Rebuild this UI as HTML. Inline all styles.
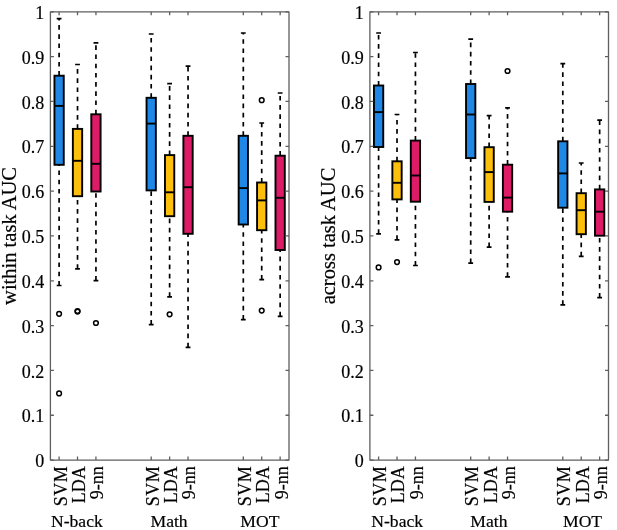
<!DOCTYPE html>
<html><head><meta charset="utf-8"><style>
html,body{margin:0;padding:0;background:#fff;}
svg{display:block;will-change:transform;}
text{font-family:"Liberation Serif",serif;fill:#000;stroke:#000;stroke-width:0.2px;}
.tl{font-size:18px;}
.yl{font-size:20.5px;}
.gl{font-size:17.6px;}
.fr{fill:none;stroke:#5f5f5f;stroke-width:1.3;stroke-linejoin:round;}
.tk{fill:none;stroke:#5f5f5f;stroke-width:1.3;}
.wh{fill:none;stroke:#000;stroke-width:1.7;stroke-dasharray:4.6 4.6;}
.cap{fill:none;stroke:#000;stroke-width:1.7;}
.bx{stroke:#000;stroke-width:1.9;}
.md{fill:none;stroke:#000;stroke-width:1.9;}
.ol{fill:none;stroke:#000;stroke-width:1.5;}
</style></head><body>
<svg width="617" height="530" viewBox="0 0 617 530">
<path d="M59.10 75.70V18.70M59.10 285.50V164.80" class="wh"/>
<path d="M56.70 18.70H61.50M56.70 285.50H61.50" class="cap"/>
<rect x="54.45" y="75.70" width="9.30" height="89.10" fill="#1f88e6" class="bx"/>
<path d="M54.45 105.90H63.75" class="md"/>
<circle cx="59.10" cy="313.80" r="2.35" class="ol"/>
<circle cx="59.10" cy="393.40" r="2.35" class="ol"/>
<path d="M77.52 128.90V64.50M77.52 268.90V196.20" class="wh"/>
<path d="M75.12 64.50H79.92M75.12 268.90H79.92" class="cap"/>
<rect x="72.87" y="128.90" width="9.30" height="67.30" fill="#fbbf0c" class="bx"/>
<path d="M72.87 160.80H82.17" class="md"/>
<circle cx="77.52" cy="311.00" r="2.35" class="ol"/>
<circle cx="77.52" cy="311.60" r="2.35" class="ol"/>
<path d="M95.94 114.30V42.80M95.94 280.60V191.50" class="wh"/>
<path d="M93.54 42.80H98.34M93.54 280.60H98.34" class="cap"/>
<rect x="91.29" y="114.30" width="9.30" height="77.20" fill="#dd1b66" class="bx"/>
<path d="M91.29 163.80H100.59" class="md"/>
<circle cx="95.94" cy="323.00" r="2.35" class="ol"/>
<path d="M151.20 97.80V34.00M151.20 324.70V190.40" class="wh"/>
<path d="M148.80 34.00H153.60M148.80 324.70H153.60" class="cap"/>
<rect x="146.55" y="97.80" width="9.30" height="92.60" fill="#1f88e6" class="bx"/>
<path d="M146.55 123.60H155.85" class="md"/>
<path d="M169.62 155.10V83.60M169.62 296.80V216.20" class="wh"/>
<path d="M167.22 83.60H172.02M167.22 296.80H172.02" class="cap"/>
<rect x="164.97" y="155.10" width="9.30" height="61.10" fill="#fbbf0c" class="bx"/>
<path d="M164.97 192.30H174.27" class="md"/>
<circle cx="169.62" cy="314.30" r="2.35" class="ol"/>
<path d="M188.04 135.80V66.20M188.04 347.40V233.80" class="wh"/>
<path d="M185.64 66.20H190.44M185.64 347.40H190.44" class="cap"/>
<rect x="183.39" y="135.80" width="9.30" height="98.00" fill="#dd1b66" class="bx"/>
<path d="M183.39 187.20H192.69" class="md"/>
<path d="M243.30 135.80V33.00M243.30 319.60V224.50" class="wh"/>
<path d="M240.90 33.00H245.70M240.90 319.60H245.70" class="cap"/>
<rect x="238.65" y="135.80" width="9.30" height="88.70" fill="#1f88e6" class="bx"/>
<path d="M238.65 188.10H247.95" class="md"/>
<path d="M261.72 182.50V123.00M261.72 279.60V230.20" class="wh"/>
<path d="M259.32 123.00H264.12M259.32 279.60H264.12" class="cap"/>
<rect x="257.07" y="182.50" width="9.30" height="47.70" fill="#fbbf0c" class="bx"/>
<path d="M257.07 200.40H266.37" class="md"/>
<circle cx="261.72" cy="100.20" r="2.35" class="ol"/>
<circle cx="261.72" cy="310.60" r="2.35" class="ol"/>
<path d="M280.14 155.70V93.00M280.14 316.40V250.00" class="wh"/>
<path d="M277.74 93.00H282.54M277.74 316.40H282.54" class="cap"/>
<rect x="275.49" y="155.70" width="9.30" height="94.30" fill="#dd1b66" class="bx"/>
<path d="M275.49 197.80H284.79" class="md"/>
<rect x="50.4" y="11.8" width="238.60" height="448.30" class="fr"/>
<path d="M50.4 460.10h3.5M289.0 460.10h-3.5M50.4 415.27h3.5M289.0 415.27h-3.5M50.4 370.44h3.5M289.0 370.44h-3.5M50.4 325.61h3.5M289.0 325.61h-3.5M50.4 280.78h3.5M289.0 280.78h-3.5M50.4 235.95h3.5M289.0 235.95h-3.5M50.4 191.12h3.5M289.0 191.12h-3.5M50.4 146.29h3.5M289.0 146.29h-3.5M50.4 101.46h3.5M289.0 101.46h-3.5M50.4 56.63h3.5M289.0 56.63h-3.5M50.4 11.80h3.5M289.0 11.80h-3.5M59.10 460.1v-3.5M59.10 11.8v3.5M77.52 460.1v-3.5M77.52 11.8v3.5M95.94 460.1v-3.5M95.94 11.8v3.5M151.20 460.1v-3.5M151.20 11.8v3.5M169.62 460.1v-3.5M169.62 11.8v3.5M188.04 460.1v-3.5M188.04 11.8v3.5M243.30 460.1v-3.5M243.30 11.8v3.5M261.72 460.1v-3.5M261.72 11.8v3.5M280.14 460.1v-3.5M280.14 11.8v3.5" class="tk"/>
<text x="44.3" y="467.30" class="tl" text-anchor="end">0</text>
<text x="44.3" y="422.47" class="tl" text-anchor="end">0.1</text>
<text x="44.3" y="377.64" class="tl" text-anchor="end">0.2</text>
<text x="44.3" y="332.81" class="tl" text-anchor="end">0.3</text>
<text x="44.3" y="287.98" class="tl" text-anchor="end">0.4</text>
<text x="44.3" y="243.15" class="tl" text-anchor="end">0.5</text>
<text x="44.3" y="198.32" class="tl" text-anchor="end">0.6</text>
<text x="44.3" y="153.49" class="tl" text-anchor="end">0.7</text>
<text x="44.3" y="108.66" class="tl" text-anchor="end">0.8</text>
<text x="44.3" y="63.83" class="tl" text-anchor="end">0.9</text>
<text x="44.3" y="19.00" class="tl" text-anchor="end">1</text>
<text transform="translate(15.6,236) rotate(-90)" class="yl" text-anchor="middle">within task AUC</text>
<text transform="translate(66.50,466.3) rotate(-90)" class="tl" text-anchor="end" textLength="40" lengthAdjust="spacing">SVM</text>
<text transform="translate(84.92,466.3) rotate(-90)" class="tl" text-anchor="end">LDA</text>
<text transform="translate(103.34,466.3) rotate(-90)" class="tl" text-anchor="end">9-nn</text>
<text transform="translate(158.60,466.3) rotate(-90)" class="tl" text-anchor="end" textLength="40" lengthAdjust="spacing">SVM</text>
<text transform="translate(177.02,466.3) rotate(-90)" class="tl" text-anchor="end">LDA</text>
<text transform="translate(195.44,466.3) rotate(-90)" class="tl" text-anchor="end">9-nn</text>
<text transform="translate(250.70,466.3) rotate(-90)" class="tl" text-anchor="end" textLength="40" lengthAdjust="spacing">SVM</text>
<text transform="translate(269.12,466.3) rotate(-90)" class="tl" text-anchor="end">LDA</text>
<text transform="translate(287.54,466.3) rotate(-90)" class="tl" text-anchor="end">9-nn</text>
<path d="M378.60 85.50V33.00M378.60 233.80V147.00" class="wh"/>
<path d="M376.20 33.00H381.00M376.20 233.80H381.00" class="cap"/>
<rect x="373.95" y="85.50" width="9.30" height="61.50" fill="#1f88e6" class="bx"/>
<path d="M373.95 112.10H383.25" class="md"/>
<circle cx="378.60" cy="267.40" r="2.35" class="ol"/>
<path d="M397.02 161.30V114.50M397.02 239.80V199.40" class="wh"/>
<path d="M394.62 114.50H399.42M394.62 239.80H399.42" class="cap"/>
<rect x="392.37" y="161.30" width="9.30" height="38.10" fill="#fbbf0c" class="bx"/>
<path d="M392.37 182.80H401.67" class="md"/>
<circle cx="397.02" cy="262.10" r="2.35" class="ol"/>
<path d="M415.44 140.60V52.50M415.44 265.50V201.70" class="wh"/>
<path d="M413.04 52.50H417.84M413.04 265.50H417.84" class="cap"/>
<rect x="410.79" y="140.60" width="9.30" height="61.10" fill="#dd1b66" class="bx"/>
<path d="M410.79 175.50H420.09" class="md"/>
<path d="M470.70 84.00V39.20M470.70 263.20V158.10" class="wh"/>
<path d="M468.30 39.20H473.10M468.30 263.20H473.10" class="cap"/>
<rect x="466.05" y="84.00" width="9.30" height="74.10" fill="#1f88e6" class="bx"/>
<path d="M466.05 114.50H475.35" class="md"/>
<path d="M489.12 147.20V115.70M489.12 247.20V201.90" class="wh"/>
<path d="M486.72 115.70H491.52M486.72 247.20H491.52" class="cap"/>
<rect x="484.47" y="147.20" width="9.30" height="54.70" fill="#fbbf0c" class="bx"/>
<path d="M484.47 172.10H493.77" class="md"/>
<path d="M507.54 164.70V107.80M507.54 276.80V211.70" class="wh"/>
<path d="M505.14 107.80H509.94M505.14 276.80H509.94" class="cap"/>
<rect x="502.89" y="164.70" width="9.30" height="47.00" fill="#dd1b66" class="bx"/>
<path d="M502.89 197.60H512.19" class="md"/>
<circle cx="507.54" cy="71.00" r="2.35" class="ol"/>
<path d="M562.80 141.30V63.60M562.80 304.90V207.70" class="wh"/>
<path d="M560.40 63.60H565.20M560.40 304.90H565.20" class="cap"/>
<rect x="558.15" y="141.30" width="9.30" height="66.40" fill="#1f88e6" class="bx"/>
<path d="M558.15 173.40H567.45" class="md"/>
<path d="M581.22 193.20V163.00M581.22 256.40V234.20" class="wh"/>
<path d="M578.82 163.00H583.62M578.82 256.40H583.62" class="cap"/>
<rect x="576.57" y="193.20" width="9.30" height="41.00" fill="#fbbf0c" class="bx"/>
<path d="M576.57 210.20H585.87" class="md"/>
<path d="M599.64 189.40V120.20M599.64 297.70V235.70" class="wh"/>
<path d="M597.24 120.20H602.04M597.24 297.70H602.04" class="cap"/>
<rect x="594.99" y="189.40" width="9.30" height="46.30" fill="#dd1b66" class="bx"/>
<path d="M594.99 211.70H604.29" class="md"/>
<rect x="369.9" y="11.8" width="238.60" height="448.30" class="fr"/>
<path d="M369.9 460.10h3.5M608.5 460.10h-3.5M369.9 415.27h3.5M608.5 415.27h-3.5M369.9 370.44h3.5M608.5 370.44h-3.5M369.9 325.61h3.5M608.5 325.61h-3.5M369.9 280.78h3.5M608.5 280.78h-3.5M369.9 235.95h3.5M608.5 235.95h-3.5M369.9 191.12h3.5M608.5 191.12h-3.5M369.9 146.29h3.5M608.5 146.29h-3.5M369.9 101.46h3.5M608.5 101.46h-3.5M369.9 56.63h3.5M608.5 56.63h-3.5M369.9 11.80h3.5M608.5 11.80h-3.5M378.60 460.1v-3.5M378.60 11.8v3.5M397.02 460.1v-3.5M397.02 11.8v3.5M415.44 460.1v-3.5M415.44 11.8v3.5M470.70 460.1v-3.5M470.70 11.8v3.5M489.12 460.1v-3.5M489.12 11.8v3.5M507.54 460.1v-3.5M507.54 11.8v3.5M562.80 460.1v-3.5M562.80 11.8v3.5M581.22 460.1v-3.5M581.22 11.8v3.5M599.64 460.1v-3.5M599.64 11.8v3.5" class="tk"/>
<text x="363.8" y="467.30" class="tl" text-anchor="end">0</text>
<text x="363.8" y="422.47" class="tl" text-anchor="end">0.1</text>
<text x="363.8" y="377.64" class="tl" text-anchor="end">0.2</text>
<text x="363.8" y="332.81" class="tl" text-anchor="end">0.3</text>
<text x="363.8" y="287.98" class="tl" text-anchor="end">0.4</text>
<text x="363.8" y="243.15" class="tl" text-anchor="end">0.5</text>
<text x="363.8" y="198.32" class="tl" text-anchor="end">0.6</text>
<text x="363.8" y="153.49" class="tl" text-anchor="end">0.7</text>
<text x="363.8" y="108.66" class="tl" text-anchor="end">0.8</text>
<text x="363.8" y="63.83" class="tl" text-anchor="end">0.9</text>
<text x="363.8" y="19.00" class="tl" text-anchor="end">1</text>
<text transform="translate(335.1,236) rotate(-90)" class="yl" text-anchor="middle">across task AUC</text>
<text transform="translate(386.00,466.3) rotate(-90)" class="tl" text-anchor="end" textLength="40" lengthAdjust="spacing">SVM</text>
<text transform="translate(404.42,466.3) rotate(-90)" class="tl" text-anchor="end">LDA</text>
<text transform="translate(422.84,466.3) rotate(-90)" class="tl" text-anchor="end">9-nn</text>
<text transform="translate(478.10,466.3) rotate(-90)" class="tl" text-anchor="end" textLength="40" lengthAdjust="spacing">SVM</text>
<text transform="translate(496.52,466.3) rotate(-90)" class="tl" text-anchor="end">LDA</text>
<text transform="translate(514.94,466.3) rotate(-90)" class="tl" text-anchor="end">9-nn</text>
<text transform="translate(570.20,466.3) rotate(-90)" class="tl" text-anchor="end" textLength="40" lengthAdjust="spacing">SVM</text>
<text transform="translate(588.62,466.3) rotate(-90)" class="tl" text-anchor="end">LDA</text>
<text transform="translate(607.04,466.3) rotate(-90)" class="tl" text-anchor="end">9-nn</text>
<text x="51.0" y="527.3" class="gl">N-back</text>
<text x="150.5" y="527.3" class="gl">Math</text>
<text x="240.3" y="527.3" class="gl">MOT</text>
<text x="371.3" y="526.8" class="gl">N-back</text>
<text x="470.3" y="526.8" class="gl">Math</text>
<text x="563.0" y="526.8" class="gl">MOT</text>
</svg>
</body></html>
